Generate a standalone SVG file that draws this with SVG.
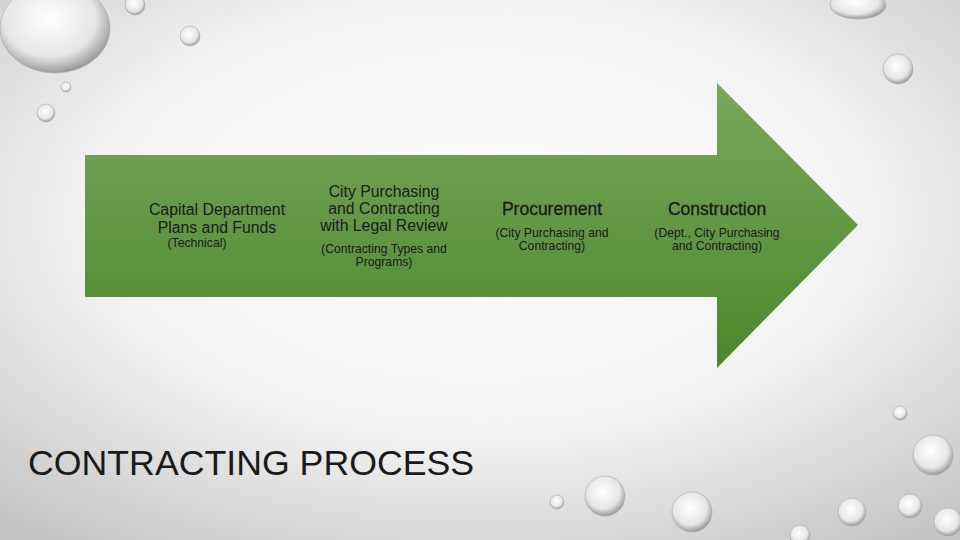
<svg xmlns="http://www.w3.org/2000/svg" width="960" height="540" viewBox="0 0 960 540">
<defs>
<radialGradient id="bg" cx="0.5" cy="0.4" r="0.75">
<stop offset="0" stop-color="#ffffff"/><stop offset="0.55" stop-color="#f2f2f2"/><stop offset="1" stop-color="#c4c4c4"/>
</radialGradient>
<linearGradient id="gr" x1="0" y1="0" x2="0" y2="1">
<stop offset="0" stop-color="#7aa75c"/><stop offset="1" stop-color="#4c872c"/>
</linearGradient>
<radialGradient id="drop" cx="0.45" cy="0.4" r="0.6">
<stop offset="0" stop-color="#ffffff"/><stop offset="0.7" stop-color="#e6e6e6"/><stop offset="1" stop-color="#9a9a9a"/>
</radialGradient>
<style>
text{font-family:"Liberation Sans",Arial,sans-serif;fill:#1a1a1a;text-anchor:middle}
.m{font-size:15.8px}.s{font-size:12.2px}.h{font-size:17.5px;stroke:#1a1a1a;stroke-width:0.3}
.d{fill:url(#drop);stroke:#aaa;stroke-width:0.6}
</style>
</defs>
<rect width="960" height="540" fill="url(#bg)"/>
<g id="drops">
<ellipse class="d" cx="55" cy="28" rx="55" ry="45"/>
<circle class="d" cx="190" cy="36" r="10"/>
<circle class="d" cx="135" cy="5" r="10"/>
<circle class="d" cx="46" cy="113" r="9"/>
<circle class="d" cx="66" cy="87" r="5"/>
<ellipse class="d" cx="858" cy="5" rx="28" ry="14"/>
<circle class="d" cx="898" cy="69" r="15"/>
<circle class="d" cx="900" cy="413" r="7"/>
<circle class="d" cx="933" cy="455" r="20"/>
<circle class="d" cx="910" cy="506" r="12"/>
<circle class="d" cx="948" cy="522" r="14"/>
<circle class="d" cx="605" cy="496" r="20"/>
<circle class="d" cx="557" cy="502" r="7"/>
<circle class="d" cx="692" cy="512" r="20"/>
<circle class="d" cx="852" cy="512" r="14"/>
<circle class="d" cx="800" cy="535" r="10"/>
</g>
<g id="arrow">
<path d="M85 155 H717 V83 L858 225 L717 368 V297 H85 Z" fill="url(#gr)"/>
</g>
<g id="n1">
<text class="m" x="217" y="215">Capital Department</text>
<text class="m" x="217" y="233">Plans and Funds</text>
<text class="s" x="197" y="247">(Technical)</text>
</g>
<g id="n2">
<text class="m" x="384" y="197">City Purchasing</text>
<text class="m" x="384" y="214">and Contracting</text>
<text class="m" x="384" y="231">with Legal Review</text>
<text class="s" x="384" y="253">(Contracting Types and</text>
<text class="s" x="384" y="266">Programs)</text>
</g>
<g id="n3">
<text class="h" x="552" y="215">Procurement</text>
<text class="s" x="552" y="237">(City Purchasing and</text>
<text class="s" x="552" y="250">Contracting)</text>
</g>
<g id="n4">
<text class="h" x="717" y="215">Construction</text>
<text class="s" x="717" y="237">(Dept., City Purchasing</text>
<text class="s" x="717" y="250">and Contracting)</text>
</g>
<g id="title">
<text x="28" y="475" style="font-size:35.7px;text-anchor:start">CONTRACTING PROCESS</text>
</g>
<g id="connectors"/>
</svg>
